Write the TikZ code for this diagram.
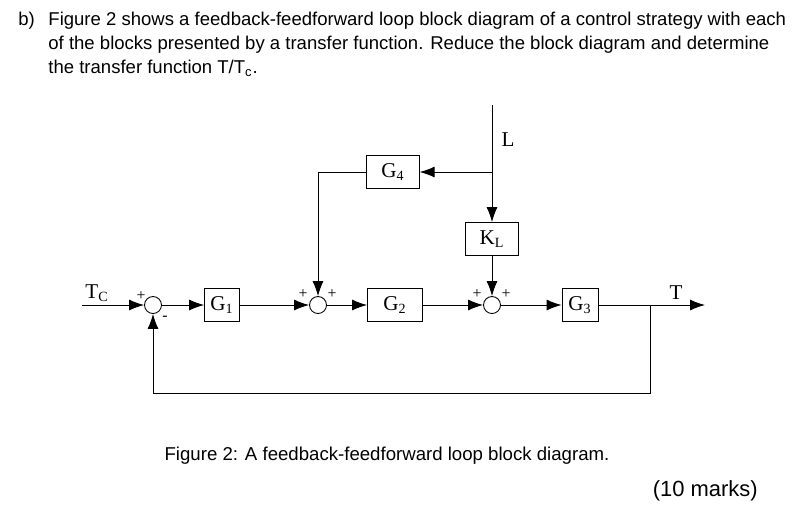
\documentclass[tikz,border=0pt]{standalone}
\usepackage{fontspec}
\setmainfont{Liberation Serif}
\newfontfamily\arial{Liberation Sans}
\usetikzlibrary{positioning,calc,arrows.meta}
\tikzset{
  tf box/.style = {
    shape = rectangle,
    draw,
    minimum width = #1,
    minimum height = 0.66cm,
    font = \large},
  sum/.style = {shape = circle, draw, minimum size = 0.34cm, inner sep = 0pt},
  sign/.style = {font = \small, inner sep = 1pt},
  body/.style = {font = \arial\fontsize{10.55}{13}\selectfont, anchor = west, inner sep = 0pt}
}
\begin{document}
\begin{tikzpicture}[x=0.02cm, y=-0.02cm, >={Latex[length=3mm,width=2.2mm]}, line width = 0.5pt]
  \useasboundingbox (0,0) rectangle (808,529);
  % question text
  \node[body] (qb) at (18,21) {b)};
  \node[body] (q1) at (48,21) {Figure 2 shows a feedback-feedforward loop block diagram of a control strategy with each};
  \node[body] (q2) at (48,45) {of the blocks presented by a transfer function. Reduce the block diagram and determine};
  \node[body] (q3) at (48,68) {the transfer function T/T\textsubscript{c}.};
  % blocks
  \node[sum] (s1) at (153,305) {};
  \node[tf box = 0.6cm] (g1) at (222,305) {G\textsubscript{1}};
  \node[sum] (s2) at (318,305) {};
  \node[tf box = 1.1cm] (g2) at (395,305) {G\textsubscript{2}};
  \node[sum] (s3) at (492,305) {};
  \node[tf box = 0.72cm] (g3) at (580,305) {G\textsubscript{3}};
  \node[tf box = 1.05cm] (g4) at (393,172) {G\textsubscript{4}};
  \node[tf box = 1.05cm] (kl) at (492,239) {K\textsubscript{L}};
  % labels and free ends
  \coordinate (in) at (82,305);
  \coordinate (out) at (705,305);
  \coordinate (branch) at (650,305);
  \coordinate (top) at (492,105);
  \coordinate (lsplit) at (492,172);
  \node[font=\large] (tc) at (97,293) {T\textsubscript{C}};
  \node[font=\large] (tl) at (676,293) {T};
  \node[font=\large] (ll) at (508,140) {L};
  \node[sign] at (141,296) {+};
  \node[sign] at (165,318) {-};
  \node[sign] at (303,294) {+};
  \node[sign] at (332,294) {+};
  \node[sign] at (477,294) {+};
  \node[sign] at (506,294) {+};
  % connectors
  \draw[->] (in) -- (s1);
  \draw[->] (s1) -- (g1);
  \draw[->] (g1) -- (s2);
  \draw[->] (s2) -- (g2);
  \draw[->] (g2) -- (s3);
  \draw[->] (s3) -- (g3);
  \draw[->] (g3) -- (out);
  \draw[->] (top) -- (kl);
  \draw[->] (lsplit) -- (g4);
  \draw[->] (g4) -| (s2);
  \draw[->] (kl) -- (s3);
  \draw[->] (branch) |- (153,393) -- (s1);
  % caption
  \node[font = \arial\fontsize{10.6}{13}\selectfont] (cap) at (387,456) {Figure 2: A feedback-feedforward loop block diagram.};
  \node[font = \arial\fontsize{12.5}{15}\selectfont, anchor = east] (marks) at (764,491) {(10 marks)};
\end{tikzpicture}
\end{document}
